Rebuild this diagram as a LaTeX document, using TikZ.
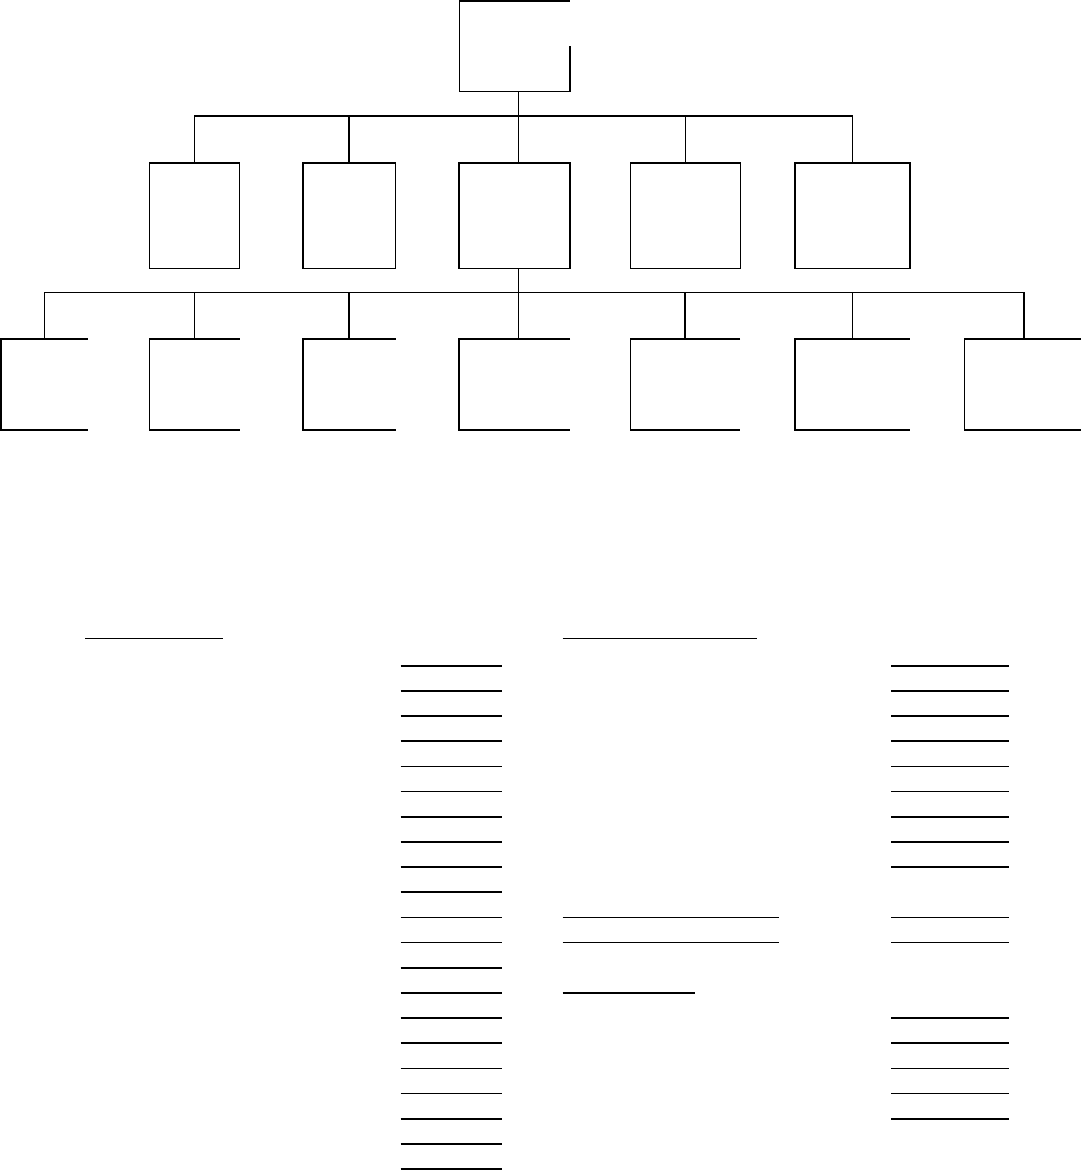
\documentclass[tikz,border=0pt]{standalone}
\usetikzlibrary{positioning}

\begin{document}
\begin{tikzpicture}[x=0.02cm, y=-0.02cm, line width=0.9pt,
    unit/.style={draw, inner sep=0pt, outer sep=0pt, minimum height=2.112cm},
    openunit/.style={inner sep=0pt, outer sep=0pt, minimum height=1.82cm},
    blank/.style={line width=0.9pt}]
    \useasboundingbox (0,0) rectangle (1081,1171);

    % Kopfeinheit (rechte Seite oben offen)
    \node[inner sep=0pt, outer sep=0pt, minimum width=2.214cm, minimum height=1.814cm] (top) at (514.85,46.35) {};
    \draw (top.east) -- (top.south east) -- (top.south west) -- (top.north west) -- (top.north east);

    % zweite Ebene
    \node[unit, minimum width=1.806cm] (b1) at (194.45,215.5) {};
    \node[unit, minimum width=1.86cm]  (b2) at (349.2,215.5) {};
    \node[unit, minimum width=2.22cm]  (b3) at (514.7,215.5) {};
    \node[unit, minimum width=2.202cm] (b4) at (685.45,215.5) {};
    \node[unit, minimum width=2.304cm] (b5) at (852.3,215.5) {};

    % dritte Ebene (rechts offen)
    \node[openunit, minimum width=1.74cm]  (c1) at (44.5,384.5) {};
    \node[openunit, minimum width=1.806cm] (c2) at (194.45,384.5) {};
    \node[openunit, minimum width=1.86cm]  (c3) at (349.2,384.5) {};
    \node[openunit, minimum width=2.22cm]  (c4) at (514.7,384.5) {};
    \node[openunit, minimum width=2.194cm] (c5) at (685.25,384.5) {};
    \node[openunit, minimum width=2.304cm] (c6) at (852.3,384.5) {};
    \node[openunit, minimum width=2.392cm] (c7) at (1024.2,384.5) {};
    \foreach \n in {c1,c2,c3,c4,c5,c6,c7}
        \draw (\n.north east) -- (\n.north west) -- (\n.south west) -- (\n.south east);

    % Verbindungen
    \coordinate (j1) at (518.6,116);
    \coordinate (j2) at (518.6,292.7);
    \draw (top.south -| j1) -- (j1);
    \foreach \n in {b1,b2,b4,b5}
        \draw (j1) -| (\n.north);
    \draw (j1) -- (b3.north -| j1);
    \draw (b3.south -| j2) -- (j2);
    \foreach \n in {c1,c2,c3,c5,c6,c7}
        \draw (j2) -| (\n.north);
    \draw (j2) -- (c4.north -| j2);

    % Leerzeilen links
    \draw[blank] (85,638.3) -- (222.7,638.3);
    \foreach \k in {0,...,20}
        \draw[blank] (400.7,{665.7+25.17*\k}) -- (502,{665.7+25.17*\k});

    % Leerzeilen Mitte
    \draw[blank] (562.7,638.3) -- (756.7,638.3);
    \foreach \k in {10,11}
        \draw[blank] (562.7,{665.7+25.17*\k}) -- (779,{665.7+25.17*\k});
    \draw[blank] (562.7,{665.7+25.17*13}) -- (695,{665.7+25.17*13});

    % Leerzeilen rechts
    \foreach \k in {0,...,8,10,11,14,15,16,17,18}
        \draw[blank] (891,{665.7+25.17*\k}) -- (1008.7,{665.7+25.17*\k});
\end{tikzpicture}
\end{document}
